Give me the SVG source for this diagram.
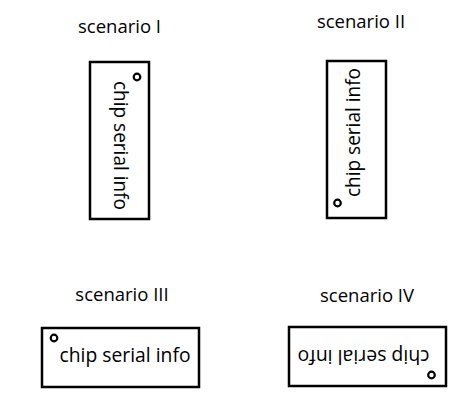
<svg xmlns="http://www.w3.org/2000/svg" width="474" height="409" viewBox="0 0 474 409">
<style>
.t{font-family:"Open Sans","Noto Sans",sans-serif;font-size:18.5px;fill:#000;text-anchor:middle}
.c{font-family:"Open Sans","Noto Sans",sans-serif;font-size:20px;fill:#000;text-anchor:middle}
.box{fill:#fff;stroke:#000;stroke-width:2.5}
.dot{fill:none;stroke:#000;stroke-width:2.2}
</style>
<rect width="474" height="409" fill="#fff"/>
<g id="scenario1">
<text class="t" x="119.5" y="33">scenario I</text>
<rect class="box" x="90" y="62" width="59" height="157"/>
<circle class="dot" cx="137" cy="77" r="3.3"/>
<text class="c" transform="translate(119.5,145.5) rotate(90)" x="0" y="5.5" textLength="129" lengthAdjust="spacingAndGlyphs">chip serial info</text>
</g>
<g id="scenario2">
<text class="t" x="361" y="28">scenario II</text>
<rect class="box" x="327" y="61" width="59" height="157"/>
<circle class="dot" cx="337.5" cy="203" r="3.3"/>
<text class="c" transform="translate(354.5,132.5) rotate(-90)" x="0" y="5.5" textLength="129" lengthAdjust="spacingAndGlyphs">chip serial info</text>
</g>
<g id="scenario3">
<text class="t" x="122" y="300.5">scenario III</text>
<rect class="box" x="42" y="328" width="157" height="59"/>
<circle class="dot" cx="54" cy="338" r="3.3"/>
<text class="c" transform="translate(125,356.5)" x="0" y="5.5" textLength="131" lengthAdjust="spacingAndGlyphs">chip serial info</text>
</g>
<g id="scenario4">
<text class="t" x="367" y="301.5">scenario IV</text>
<rect class="box" x="289" y="327" width="157" height="59"/>
<circle class="dot" cx="431.5" cy="375" r="3.3"/>
<text class="c" transform="translate(363.5,355.5) rotate(180)" x="0" y="5.5" textLength="132" lengthAdjust="spacingAndGlyphs">chip serial info</text>
</g>
</svg>
